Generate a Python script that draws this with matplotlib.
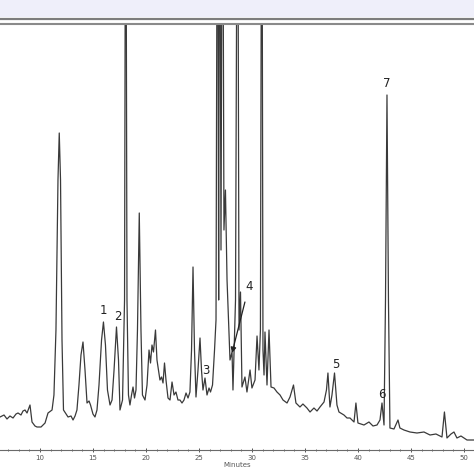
import matplotlib
matplotlib.use("Agg")
import matplotlib.pyplot as plt
from matplotlib.patches import Rectangle
from matplotlib.ticker import MultipleLocator

# retention time (min) and detector response (arbitrary units)
times = [
    6.23, 6.61, 6.89, 7.17, 7.46, 7.74, 7.93, 8.21, 8.40, 8.59, 8.78, 9.06,
    9.25, 9.53, 9.72, 10.10, 10.48, 10.76, 11.14, 11.32, 11.51, 11.70, 11.82,
    11.94, 12.08, 12.22, 12.46, 12.65, 12.93, 13.12, 13.31, 13.49, 13.68,
    13.87, 14.06, 14.25, 14.44, 14.63, 14.77, 15.00, 15.19, 15.38, 15.57,
    15.81, 15.99, 16.18, 16.37, 16.61, 16.80, 16.99, 17.22, 17.41, 17.55,
    17.79, 17.98, 18.09, 18.21, 18.35, 18.49, 18.64, 18.78, 18.92, 19.06,
    19.20, 19.37, 19.53, 19.67, 19.91, 20.10, 20.29, 20.43, 20.57, 20.71,
    20.90, 21.04, 21.18, 21.32, 21.47, 21.61, 21.75, 21.89, 22.08, 22.27,
    22.46, 22.65, 22.83, 23.02, 23.21, 23.40, 23.59, 23.78, 23.97, 24.15,
    24.30, 24.44, 24.58, 24.72, 24.91, 25.10, 25.24, 25.38, 25.57, 25.76,
    25.95, 26.09, 26.28, 26.47, 26.61, 26.75, 26.86, 26.94, 27.08, 27.22,
    27.36, 27.50, 27.65, 27.93, 28.12, 28.21, 28.45, 28.64, 28.78, 28.92,
    29.06, 29.34, 29.53, 29.82, 30.00, 30.29, 30.48, 30.66, 30.80, 30.93,
    31.04, 31.14, 31.23, 31.42, 31.61, 31.80, 32.08, 32.36, 32.65, 32.93,
    33.31, 33.59, 33.92, 34.15, 34.53, 34.81, 35.19, 35.48, 35.85, 36.14,
    36.42, 36.80, 37.03, 37.17, 37.36, 37.55, 37.79, 38.02, 38.21, 38.68,
    38.97, 39.25, 39.63, 39.81, 40.00, 40.57, 41.04, 41.42, 41.80, 42.08,
    42.27, 42.46, 42.60, 42.74, 42.88, 43.02, 43.40, 43.78, 43.96, 44.34,
    44.91, 45.57, 46.23, 46.80, 47.36, 47.93, 48.16, 48.40, 48.78, 49.06,
    49.34, 49.72, 50.29, 50.95,
]
signal = [
    33, 35, 31, 34, 32, 36, 37, 35, 39, 40, 37, 45,
    28, 24, 23, 23, 27, 37, 40, 55, 120, 270, 317,
    270, 110, 40, 36, 33, 34, 30, 34, 40, 65,
    95, 108, 80, 47, 49, 45, 36, 33, 40, 65,
    110, 128, 105, 60, 45, 50, 80, 123, 90, 40,
    50, 150, 700, 150, 55, 45, 55, 63, 52, 60,
    120, 237, 120, 55, 50, 65, 100, 87, 105, 98,
    120, 90, 80, 70, 73, 67, 87, 70, 52, 50,
    68, 55, 58, 50, 50, 47, 50, 57, 52, 58,
    100, 183, 100, 53, 80, 112, 80, 60, 72, 55,
    62, 58, 65, 100, 130, 700, 150, 700, 200, 700,
    220, 260, 170, 90, 98, 60, 150, 700, 120, 158,
    63, 73, 58, 80, 62, 70, 114, 80, 120, 700,
    100, 75, 118, 65, 120, 63, 62, 58, 55, 50,
    47, 53, 65, 47, 43, 46, 42, 38, 42, 39,
    43, 48, 60, 77, 43, 55, 77, 45, 38, 35,
    32, 32, 28, 47, 27, 25, 28, 24, 25, 30,
    47, 25, 150, 355, 150, 22, 21, 30, 22, 20,
    18, 17, 18, 15, 16, 13, 38, 12, 16, 18,
    12, 14, 10, 10,
]

peak_ids = ["1", "2", "3", "5", "6", "7"]
peak_times = [15.95, 17.36, 25.66, 37.93, 42.22, 42.74]
peak_text_h = [139, 134, 80, 86, 56, 366]

arrow_id = "4"
arrow_text = (29.72, 164)
arrow_tip = (28.12, 97)

W = H = 474
fig = plt.figure(figsize=(W / 100, H / 100), dpi=100)
fig.patch.set_facecolor("white")

# banner strip at the top
fig.patches.append(Rectangle((0, 1 - 17 / H), 1, 17 / H, transform=fig.transFigure,
                             facecolor="#efeffa", edgecolor="none", zorder=0))
fig.lines.append(plt.Line2D([0, 1], [1 - 18.5 / H] * 2, transform=fig.transFigure,
                            color="#7d7d7d", lw=1.6))

ax = fig.add_axes([0, 24 / H, 1, 426 / H])
ax.plot(times, signal, color="#3a3a3a", lw=0.9)
ax.set_xlim(6.23, 50.95)
ax.set_ylim(0, 426)

for lab, t, h in zip(peak_ids, peak_times, peak_text_h):
    ax.text(t, h, lab, ha="center", va="center", fontsize=8.5, color="#222222")
ax.annotate(arrow_id, xy=arrow_tip, xytext=arrow_text, ha="center", va="center",
            fontsize=8.5, color="#222222",
            arrowprops=dict(arrowstyle="-|>", color="#222222", lw=0.9,
                            shrinkA=5, shrinkB=0, mutation_scale=8))

ax.spines["left"].set_visible(False)
ax.spines["right"].set_visible(False)
ax.spines["top"].set_color("#8a8a8a")
ax.spines["top"].set_linewidth(1.5)
ax.spines["bottom"].set_color("#6a6a6a")
ax.spines["bottom"].set_linewidth(0.8)
ax.set_yticks([])
ax.xaxis.set_major_locator(MultipleLocator(5))
ax.xaxis.set_minor_locator(MultipleLocator(1))
ax.tick_params(axis="x", which="major", direction="inout", length=3.5, width=0.7,
               colors="#555555", labelsize=5, pad=1.5)
ax.tick_params(axis="x", which="minor", direction="inout", length=2, width=0.6,
               colors="#555555")
ax.set_xlabel("Minutes", fontsize=5, color="#555555", labelpad=1)

fig.savefig("out.png", dpi=100)
